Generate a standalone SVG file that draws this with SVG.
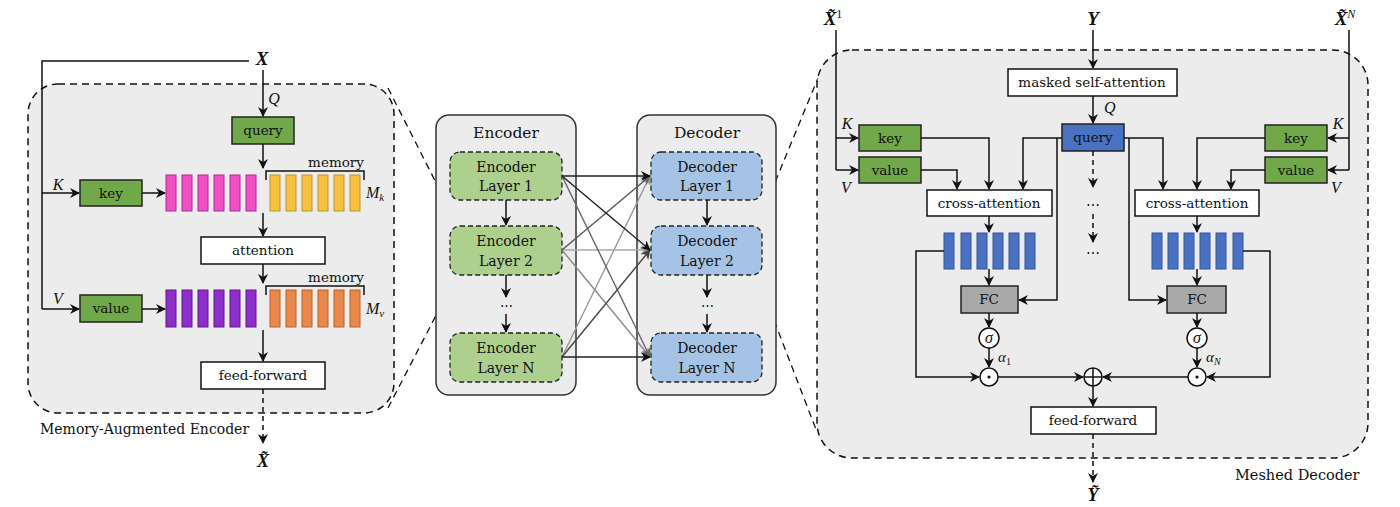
<svg xmlns="http://www.w3.org/2000/svg" width="1400" height="507" viewBox="0 0 1400 507">
<defs>
<style>
.t{font-family:"DejaVu Serif","Liberation Serif",serif;font-size:13.5px;fill:#111;text-anchor:middle}
.m{font-family:"Liberation Serif","DejaVu Serif",serif;font-style:italic;font-weight:bold;fill:#111}
.mi{font-family:"Liberation Serif","DejaVu Serif",serif;font-style:italic;fill:#111}
.up{font-style:normal;font-weight:normal}
.ln{fill:none;stroke:#111;stroke-width:1.5}
.a{fill:none;stroke:#111;stroke-width:1.5;marker-end:url(#ah)}
.ad{fill:none;stroke:#111;stroke-width:1.5;stroke-dasharray:5,4;marker-end:url(#ah)}
.panel{fill:#ececec;stroke:#111;stroke-width:1.5;stroke-dasharray:7,5}
.zoom{fill:none;stroke:#111;stroke-width:1.3;stroke-dasharray:7,5}
.box{fill:#fff;stroke:#111;stroke-width:1.5}
.g{fill:#70a84a;stroke:#222;stroke-width:1.5}
.b{fill:#4a72c2;stroke:#222;stroke-width:1.5}
.fc{fill:#a8a8a8;stroke:#222;stroke-width:1.5}
.pk{fill:#ee4fc4;stroke:#b02c8e;stroke-width:1}
.yl{fill:#f6c240;stroke:#c09422;stroke-width:1}
.pu{fill:#8f2dc8;stroke:#5a1a88;stroke-width:1}
.or{fill:#e8884a;stroke:#b8602a;stroke-width:1}
.bl{fill:#4a72c2;stroke:#2f5597;stroke-width:1}
.cont{fill:#ececec;stroke:#333;stroke-width:1.5}
.el{fill:#add08f;stroke:#222;stroke-width:1.3;stroke-dasharray:5,3}
.dl{fill:#a5c3e4;stroke:#222;stroke-width:1.3;stroke-dasharray:5,3}
.circ{fill:#fff;stroke:#111;stroke-width:1.5}
</style>
<marker id="ah" viewBox="0 0 10 10" refX="9" refY="5" markerWidth="10" markerHeight="10" markerUnits="userSpaceOnUse" orient="auto"><path d="M0,0 L10,5 L0,10 L3,5 z" fill="#111"/></marker>
<marker id="ah1" viewBox="0 0 10 10" refX="9" refY="5" markerWidth="10" markerHeight="10" markerUnits="userSpaceOnUse" orient="auto"><path d="M0,0 L10,5 L0,10 L3,5 z" fill="#444"/></marker>
<marker id="ah2" viewBox="0 0 10 10" refX="9" refY="5" markerWidth="10" markerHeight="10" markerUnits="userSpaceOnUse" orient="auto"><path d="M0,0 L10,5 L0,10 L3,5 z" fill="#666"/></marker>
<marker id="ah3" viewBox="0 0 10 10" refX="9" refY="5" markerWidth="10" markerHeight="10" markerUnits="userSpaceOnUse" orient="auto"><path d="M0,0 L10,5 L0,10 L3,5 z" fill="#999"/></marker>
</defs>
<rect width="1400" height="507" fill="#fff"/>

<!-- ===== Left panel: Memory-Augmented Encoder ===== -->
<g id="enc-panel">
<rect class="panel" x="28" y="84" width="366" height="329" rx="30"/>
<text class="t" x="40" y="434" style="text-anchor:start;font-size:14px">Memory-Augmented Encoder</text>
</g>
<g id="zoom-lines">
<line class="zoom" x1="388" y1="88" x2="458" y2="226"/>
<line class="zoom" x1="388" y1="408" x2="458" y2="273"/>
<line class="zoom" x1="757" y1="226" x2="818" y2="78"/>
<line class="zoom" x1="757" y1="276" x2="817" y2="432"/>
</g>
<g id="enc-labels">
<text class="m" x="262" y="65" text-anchor="middle" font-size="19">X</text>
<text class="mi" x="274" y="104" text-anchor="middle" font-size="16">Q</text>
<text class="mi" x="58" y="190" text-anchor="middle" font-size="16">K</text>
<text class="mi" x="58" y="304" text-anchor="middle" font-size="16">V</text>
<text class="mi" x="366" y="198" font-size="16">M<tspan font-size="11" dy="3">k</tspan></text>
<text class="mi" x="366" y="314" font-size="16">M<tspan font-size="11" dy="3">v</tspan></text>
<text class="m" x="263" y="467" text-anchor="middle" font-size="18">X̃</text>
</g>
<g id="enc-query"><rect class="g" x="232" y="117" width="62" height="27"/><text class="t" x="263" y="135">query</text></g>
<g id="enc-key"><rect class="g" x="80" y="180" width="62" height="26"/><text class="t" x="111" y="198">key</text></g>
<g id="enc-value"><rect class="g" x="80" y="295" width="62" height="27"/><text class="t" x="111" y="313">value</text></g>
<g id="enc-attention"><rect class="box" x="201" y="237" width="124" height="27"/><text class="t" x="263" y="255">attention</text></g>
<g id="enc-ff"><rect class="box" x="201" y="362" width="124" height="27"/><text class="t" x="263" y="380">feed-forward</text></g>
<g id="enc-keys">
<rect class="pk" x="166" y="175" width="10" height="36"/><rect class="pk" x="182" y="175" width="10" height="36"/><rect class="pk" x="198" y="175" width="10" height="36"/><rect class="pk" x="214" y="175" width="10" height="36"/><rect class="pk" x="230" y="175" width="10" height="36"/><rect class="pk" x="246" y="175" width="10" height="36"/>
<rect class="yl" x="270" y="175" width="10" height="36"/><rect class="yl" x="286" y="175" width="10" height="36"/><rect class="yl" x="302" y="175" width="10" height="36"/><rect class="yl" x="318" y="175" width="10" height="36"/><rect class="yl" x="334" y="175" width="10" height="36"/><rect class="yl" x="350" y="175" width="10" height="36"/>
<path class="ln" d="M266,180 V171 H364 V180"/>
<text class="t" x="336" y="167">memory</text>
</g>
<g id="enc-values">
<rect class="pu" x="166" y="290" width="10" height="37"/><rect class="pu" x="182" y="290" width="10" height="37"/><rect class="pu" x="198" y="290" width="10" height="37"/><rect class="pu" x="214" y="290" width="10" height="37"/><rect class="pu" x="230" y="290" width="10" height="37"/><rect class="pu" x="246" y="290" width="10" height="37"/>
<rect class="or" x="270" y="290" width="10" height="37"/><rect class="or" x="286" y="290" width="10" height="37"/><rect class="or" x="302" y="290" width="10" height="37"/><rect class="or" x="318" y="290" width="10" height="37"/><rect class="or" x="334" y="290" width="10" height="37"/><rect class="or" x="350" y="290" width="10" height="37"/>
<path class="ln" d="M266,295 V286 H364 V295"/>
<text class="t" x="336" y="282">memory</text>
</g>
<g id="enc-connectors">
<path class="ln" d="M249,61 H42 V309"/>
<path class="a" d="M42,193 H79"/>
<path class="a" d="M42,309 H79"/>
<path class="a" d="M142,193 H165"/>
<path class="a" d="M142,309 H165"/>
<path class="a" d="M263,70 V116"/>
<path class="a" d="M263,144 V168"/>
<path class="a" d="M263,213 V236"/>
<path class="a" d="M263,264 V283"/>
<path class="a" d="M263,330 V361"/>
<path class="ad" d="M263,389 V443"/>
</g>

<!-- ===== Middle: Encoder / Decoder stacks ===== -->
<g id="encoder"><rect class="cont" x="436" y="115" width="140" height="280" rx="13"/><text class="t" x="506" y="138" style="font-size:15.5px">Encoder</text></g>
<g id="decoder"><rect class="cont" x="637" y="115" width="139" height="280" rx="13"/><text class="t" x="707" y="138" style="font-size:15.5px">Decoder</text></g>
<g id="enc-l1"><rect class="el" x="450" y="152" width="112" height="48" rx="10"/><text class="t" x="506" y="172" style="font-size:14px">Encoder</text><text class="t" x="506" y="191" style="font-size:14px">Layer 1</text></g>
<g id="enc-l2"><rect class="el" x="450" y="226" width="112" height="49" rx="10"/><text class="t" x="506" y="246" style="font-size:14px">Encoder</text><text class="t" x="506" y="266" style="font-size:14px">Layer 2</text></g>
<g id="enc-ln"><rect class="el" x="450" y="333" width="112" height="49" rx="10"/><text class="t" x="506" y="353" style="font-size:14px">Encoder</text><text class="t" x="506" y="373" style="font-size:14px">Layer N</text></g>
<g id="dec-l1"><rect class="dl" x="651" y="152" width="111" height="48" rx="10"/><text class="t" x="707" y="172" style="font-size:14px">Decoder</text><text class="t" x="707" y="191" style="font-size:14px">Layer 1</text></g>
<g id="dec-l2"><rect class="dl" x="651" y="226" width="111" height="49" rx="10"/><text class="t" x="707" y="246" style="font-size:14px">Decoder</text><text class="t" x="707" y="266" style="font-size:14px">Layer 2</text></g>
<g id="dec-ln"><rect class="dl" x="651" y="333" width="111" height="49" rx="10"/><text class="t" x="707" y="353" style="font-size:14px">Decoder</text><text class="t" x="707" y="373" style="font-size:14px">Layer N</text></g>
<g id="mid-connectors">
<path class="a" d="M506,200 V225"/>
<path class="a" d="M506,275 V297"/>
<text class="t" x="506" y="310" style="font-size:13px">⋯</text>
<path class="a" d="M506,314 V332"/>
<path class="a" d="M707,200 V225"/>
<path class="a" d="M707,275 V297"/>
<text class="t" x="707" y="310" style="font-size:13px">⋯</text>
<path class="a" d="M707,314 V332"/>
<line x1="562" y1="357" x2="650" y2="176" stroke="#999" stroke-width="1.4" marker-end="url(#ah3)"/>
<line x1="562" y1="250" x2="650" y2="357" stroke="#888" stroke-width="1.4" marker-end="url(#ah3)"/>
<line x1="562" y1="250" x2="650" y2="250" stroke="#aaa" stroke-width="1.4" marker-end="url(#ah3)"/>
<line x1="562" y1="176" x2="650" y2="357" stroke="#666" stroke-width="1.4" marker-end="url(#ah2)"/>
<line x1="562" y1="250" x2="650" y2="176" stroke="#555" stroke-width="1.4" marker-end="url(#ah2)"/>
<line x1="562" y1="357" x2="650" y2="250" stroke="#444" stroke-width="1.4" marker-end="url(#ah1)"/>
<line x1="562" y1="176" x2="650" y2="176" stroke="#222" stroke-width="1.4" marker-end="url(#ah)"/>
<line x1="562" y1="176" x2="650" y2="250" stroke="#222" stroke-width="1.4" marker-end="url(#ah)"/>
<line x1="562" y1="357" x2="650" y2="357" stroke="#222" stroke-width="1.4" marker-end="url(#ah)"/>
</g>

<!-- ===== Right panel: Meshed Decoder ===== -->
<g id="dec-panel">
<rect class="panel" x="817" y="50" width="551" height="408" rx="35"/>
<text class="t" x="1235" y="480" style="text-anchor:start;font-size:14.5px">Meshed Decoder</text>
</g>
<g id="dec-labels">
<text class="m" x="833" y="25" text-anchor="middle" font-size="19">X̃<tspan class="up" font-size="12" dy="-7">1</tspan></text>
<text class="m" x="1093" y="25" text-anchor="middle" font-size="19">Y</text>
<text class="m" x="1345" y="25" text-anchor="middle" font-size="19">X̃<tspan font-size="12" font-weight="normal" dy="-7">N</tspan></text>
<text class="mi" x="1104" y="113" font-size="16">Q</text>
<text class="mi" x="847" y="129" text-anchor="middle" font-size="16">K</text>
<text class="mi" x="846" y="193" text-anchor="middle" font-size="16">V</text>
<text class="mi" x="1338" y="129" text-anchor="middle" font-size="16">K</text>
<text class="mi" x="1336" y="193" text-anchor="middle" font-size="16">V</text>
<text class="mi" x="998" y="362" font-size="15">α<tspan class="up" font-size="10" dy="3">1</tspan></text>
<text class="mi" x="1206" y="362" font-size="15">α<tspan font-size="10" dy="3">N</tspan></text>
<text class="m" x="1093" y="501" text-anchor="middle" font-size="18">Ỹ</text>
</g>
<g id="masked-sa"><rect class="box" x="1008" y="69" width="169" height="27"/><text class="t" x="1092" y="87">masked self-attention</text></g>
<g id="dec-query"><rect class="b" x="1062" y="124" width="62" height="27"/><text class="t" x="1093" y="142">query</text></g>
<g id="key-1"><rect class="g" x="859" y="125" width="62" height="26"/><text class="t" x="890" y="143">key</text></g>
<g id="value-1"><rect class="g" x="859" y="157" width="62" height="26"/><text class="t" x="890" y="175">value</text></g>
<g id="key-n"><rect class="g" x="1265" y="125" width="62" height="26"/><text class="t" x="1296" y="143">key</text></g>
<g id="value-n"><rect class="g" x="1265" y="157" width="62" height="26"/><text class="t" x="1296" y="175">value</text></g>
<g id="cross-1"><rect class="box" x="927" y="190" width="125" height="26"/><text class="t" x="989" y="208">cross-attention</text></g>
<g id="cross-n"><rect class="box" x="1135" y="190" width="124" height="26"/><text class="t" x="1197" y="208">cross-attention</text></g>
<g id="bars-1">
<rect class="bl" x="944" y="233" width="10" height="36"/><rect class="bl" x="961" y="233" width="10" height="36"/><rect class="bl" x="977" y="233" width="10" height="36"/><rect class="bl" x="993" y="233" width="10" height="36"/><rect class="bl" x="1009" y="233" width="10" height="36"/><rect class="bl" x="1025" y="233" width="10" height="36"/>
</g>
<g id="bars-n">
<rect class="bl" x="1152" y="233" width="10" height="36"/><rect class="bl" x="1168" y="233" width="10" height="36"/><rect class="bl" x="1184" y="233" width="10" height="36"/><rect class="bl" x="1200" y="233" width="10" height="36"/><rect class="bl" x="1216" y="233" width="10" height="36"/><rect class="bl" x="1233" y="233" width="10" height="36"/>
</g>
<g id="fc-1"><rect class="fc" x="961" y="286" width="57" height="27"/><text class="t" x="989" y="304">FC</text></g>
<g id="fc-n"><rect class="fc" x="1167" y="286" width="59" height="27"/><text class="t" x="1197" y="304">FC</text></g>
<g id="sigma-1"><circle class="circ" cx="989" cy="338" r="10"/><text class="mi" x="989" y="343" text-anchor="middle" font-size="16">σ</text></g>
<g id="sigma-n"><circle class="circ" cx="1197" cy="338" r="10"/><text class="mi" x="1197" y="343" text-anchor="middle" font-size="16">σ</text></g>
<g id="mul-1"><circle class="circ" cx="989" cy="377" r="9"/><circle cx="989" cy="377" r="1.6" fill="#111"/></g>
<g id="mul-n"><circle class="circ" cx="1197" cy="377" r="9"/><circle cx="1197" cy="377" r="1.6" fill="#111"/></g>
<g id="sum"><circle class="circ" cx="1093" cy="377" r="9"/><path class="ln" d="M1084,377 H1102 M1093,368 V386"/></g>
<g id="dec-ff"><rect class="box" x="1031" y="407" width="125" height="27"/><text class="t" x="1093" y="425">feed-forward</text></g>
<g id="dec-connectors">
<path class="ln" d="M836,30 V170"/>
<path class="a" d="M836,138 H858"/>
<path class="a" d="M836,170 H858"/>
<path class="ln" d="M1349,30 V170"/>
<path class="a" d="M1349,138 H1328"/>
<path class="a" d="M1349,170 H1328"/>
<path class="a" d="M1093,30 V68"/>
<path class="a" d="M1093,96 V123"/>
<path class="a" d="M921,138 H989 V189"/>
<path class="a" d="M921,170 H957 V189"/>
<path class="a" d="M1062,138 H1023 V189"/>
<path class="a" d="M1265,138 H1197 V189"/>
<path class="a" d="M1265,170 H1231 V189"/>
<path class="a" d="M1124,138 H1163 V189"/>
<path class="a" d="M1057,138 V300 H1019"/>
<path class="a" d="M1129,138 V300 H1166"/>
<path class="ad" d="M1093,151 V187"/>
<text class="t" x="1093" y="210">⋯</text>
<path class="ad" d="M1093,214 V242"/>
<text class="t" x="1093" y="258">⋯</text>
<path class="a" d="M989,216 V232"/>
<path class="a" d="M1197,216 V232"/>
<path class="a" d="M989,269 V285"/>
<path class="a" d="M1197,269 V285"/>
<path class="a" d="M989,313 V327"/>
<path class="a" d="M1197,313 V327"/>
<path class="a" d="M989,348 V367"/>
<path class="a" d="M1197,348 V367"/>
<path class="a" d="M944,251 H916 V377 H979"/>
<path class="a" d="M1243,251 H1270 V377 H1207"/>
<path class="a" d="M998,377 H1083"/>
<path class="a" d="M1188,377 H1103"/>
<path class="a" d="M1093,386 V406"/>
<path class="ad" d="M1093,434 V482"/>
</g>
</svg>
